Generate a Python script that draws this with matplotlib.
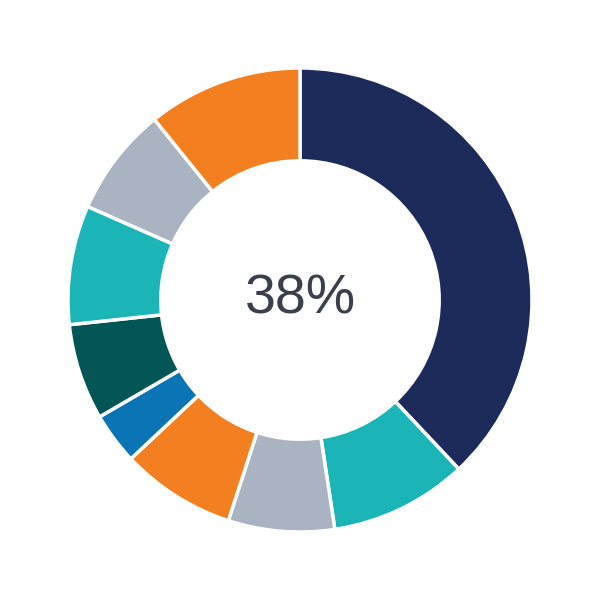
import matplotlib
matplotlib.use("Agg")
import matplotlib.pyplot as plt

# segment shares, clockwise from 12 o'clock
labels = ["A", "B", "C", "D", "E", "F", "G", "H", "I"]
values = [38, 9.6, 7.4, 8, 3.6, 6.7, 8.3, 7.6, 10.8]
colors = ["#1c2b5a", "#1cb5b7", "#a9b3c1", "#f47f20", "#0b74b5",
          "#045556", "#1cb5b7", "#a9b3c1", "#f47f20"]
center_text = "38%"

fig, ax = plt.subplots(figsize=(6, 6), dpi=100)
fig.subplots_adjust(left=0, right=1, bottom=0, top=1)

ax.pie(values, colors=colors, startangle=90, counterclock=False,
       radius=1.0,
       wedgeprops=dict(width=0.4, edgecolor="white", linewidth=2.5))
ax.text(0, 0, center_text, ha="center", va="center", fontsize=40,
        color="#3a3f4b", family="Liberation Sans")
ax.set_xlim(-1.293, 1.293)
ax.set_ylim(-1.293, 1.293)
ax.set_aspect("equal")
ax.axis("off")

plt.savefig("out.png", dpi=100, facecolor="white")
